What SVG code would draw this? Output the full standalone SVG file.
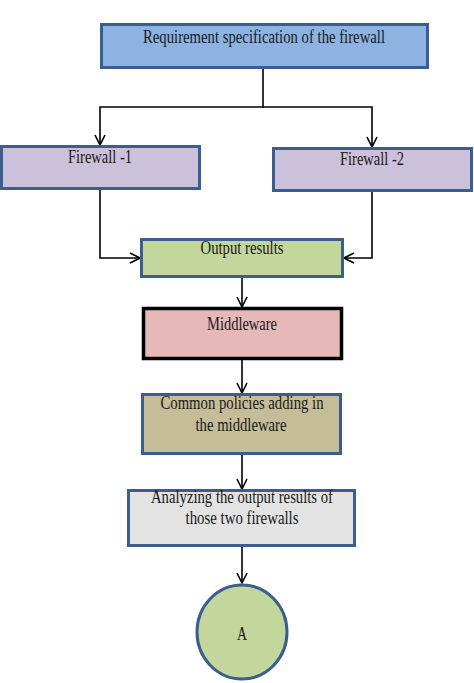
<svg xmlns="http://www.w3.org/2000/svg" width="474" height="683" viewBox="0 0 474 683">
<defs>
<style>
.box{stroke:#3a5f8f;stroke-width:3}
.t{font-family:"Liberation Serif","Times New Roman",serif;font-size:18px;fill:#1a1a1a;text-anchor:middle}
.c{fill:none;stroke:#000;stroke-width:1.6}
</style>
<marker id="ah" viewBox="0 0 12 12" refX="11" refY="6" markerWidth="12" markerHeight="12" markerUnits="userSpaceOnUse" orient="auto">
<path d="M1,1 L11,6 L1,11" fill="none" stroke="#000" stroke-width="1.6"/>
</marker>
</defs>
<rect width="474" height="683" fill="#fff"/>
<g id="connectors">
<path class="c" d="M263,68 V107 H100 V145" marker-end="url(#ah)"/>
<path class="c" d="M263,107 H372 V147" marker-end="url(#ah)"/>
<path class="c" d="M100,190 V258 H140" marker-end="url(#ah)"/>
<path class="c" d="M372,191 V258 H344" marker-end="url(#ah)"/>
<path class="c" d="M242,278 V307" marker-end="url(#ah)"/>
<path class="c" d="M242,360 V393" marker-end="url(#ah)"/>
<path class="c" d="M242,455 V489" marker-end="url(#ah)"/>
<path class="c" d="M242,547 V583" marker-end="url(#ah)"/>
</g>
<g id="req">
<rect class="box" x="101.5" y="24.5" width="326" height="43" fill="#8db3e2"/>
<text class="t" x="264" y="43" textLength="242" lengthAdjust="spacingAndGlyphs">Requirement specification of the firewall</text>
</g>
<g id="fw1">
<rect class="box" x="1.5" y="146.5" width="198" height="42" fill="#ccc1da"/>
<text class="t" x="100" y="163" textLength="64" lengthAdjust="spacingAndGlyphs">Firewall -1</text>
</g>
<g id="fw2">
<rect class="box" x="273.5" y="148.5" width="198" height="42" fill="#ccc1da"/>
<text class="t" x="372" y="165" textLength="64" lengthAdjust="spacingAndGlyphs">Firewall -2</text>
</g>
<g id="output">
<rect class="box" x="141.5" y="239.5" width="201" height="37" fill="#c3d69b"/>
<text class="t" x="242" y="254" textLength="83" lengthAdjust="spacingAndGlyphs">Output results</text>
</g>
<g id="middleware">
<rect x="143.5" y="308.5" width="198" height="50" fill="#e6b9b8" stroke="#000" stroke-width="3.5"/>
<text class="t" x="242" y="330" textLength="70" lengthAdjust="spacingAndGlyphs">Middleware</text>
</g>
<g id="policies">
<rect class="box" x="142.5" y="394.5" width="198" height="59" fill="#c4bd97"/>
<text class="t" x="242" y="409" textLength="163" lengthAdjust="spacingAndGlyphs">Common policies adding in</text>
<text class="t" x="241" y="431" textLength="91" lengthAdjust="spacingAndGlyphs">the middleware</text>
</g>
<g id="analyze">
<rect class="box" x="128.5" y="490.5" width="226" height="55" fill="#e3e3e3"/>
<text class="t" x="242" y="503" textLength="182" lengthAdjust="spacingAndGlyphs">Analyzing the output results of</text>
<text class="t" x="242" y="524" textLength="113" lengthAdjust="spacingAndGlyphs">those two firewalls</text>
</g>
<g id="A">
<ellipse class="box" cx="242" cy="632" rx="45" ry="47" fill="#c3d69b" stroke-width="3.5"/>
<text class="t" x="242" y="640" textLength="10" lengthAdjust="spacingAndGlyphs">A</text>
</g>
</svg>
